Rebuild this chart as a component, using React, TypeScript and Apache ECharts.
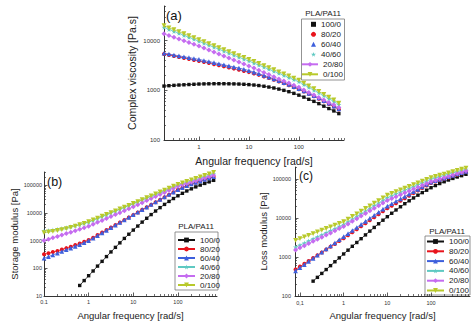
import React, { useEffect, useRef } from 'react';
import * as echarts from 'echarts';

// Angular frequency [rad/s], 10 points per decade
const FREQ = [0.0794, 0.1, 0.126, 0.158, 0.2, 0.251, 0.316, 0.398, 0.501, 0.631, 0.794, 1, 1.26, 1.58, 2, 2.51, 3.16, 3.98, 5.01, 6.31, 7.94, 10, 12.6, 15.8, 20, 25.1, 31.6, 39.8, 50.1, 63.1, 79.4, 100, 126, 158, 200, 251, 316, 398, 501, 631];

const SERIES_NAMES = ['100/0', '80/20', '60/40', '40/60', '20/80', '0/100'];

// (a) Complex viscosity [Pa.s]
const ETA_100_0 = [null, null, null, null, 1220, 1240, 1260, 1280, 1295, 1310, 1325, 1340, 1350, 1355, 1360, 1360, 1360, 1355, 1350, 1340, 1325, 1305, 1280, 1250, 1210, 1165, 1115, 1060, 1000, 940, 870, 800, 730, 660, 600, 540, 480, 430, 385, 340];
const ETA_80_20 = [null, null, null, null, 5400, 5150, 4920, 4700, 4490, 4290, 4100, 3920, 3730, 3550, 3370, 3200, 3040, 2890, 2740, 2600, 2460, 2330, 2190, 2050, 1910, 1780, 1640, 1510, 1390, 1270, 1160, 1050, 950, 850, 760, 680, 600, 530, 470, 410];
const ETA_60_40 = [null, null, null, null, 5600, 5380, 5160, 4950, 4750, 4560, 4380, 4200, 3990, 3800, 3610, 3440, 3270, 3110, 2960, 2810, 2660, 2500, 2330, 2170, 2000, 1850, 1700, 1560, 1430, 1310, 1190, 1080, 970, 870, 780, 700, 620, 550, 480, 420];
const ETA_40_60 = [null, null, null, null, 18600, 16900, 15400, 14100, 12800, 11700, 10700, 9750, 8900, 8100, 7400, 6750, 6150, 5600, 5100, 4650, 4250, 3900, 3550, 3230, 2930, 2660, 2420, 2200, 2000, 1810, 1650, 1490, 1310, 1150, 1010, 890, 780, 680, 600, 515];
const ETA_20_80 = [null, null, null, null, 13800, 12700, 11700, 10800, 9950, 9150, 8450, 7800, 7100, 6480, 5900, 5380, 4900, 4470, 4070, 3710, 3390, 3100, 2810, 2540, 2300, 2080, 1880, 1700, 1540, 1400, 1270, 1150, 1020, 910, 810, 720, 640, 570, 510, 450];
const ETA_0_100 = [null, null, null, null, 20000, 18200, 16600, 15200, 13800, 12600, 11500, 10500, 9600, 8700, 7950, 7250, 6600, 6050, 5500, 5000, 4600, 4200, 3820, 3470, 3150, 2860, 2600, 2360, 2150, 1950, 1770, 1600, 1400, 1230, 1080, 950, 830, 730, 640, 550];

// (b) Storage modulus [Pa]
const GP_100_0 = [null, null, null, null, null, null, null, null, null, 24, 36, 54, 80, 120, 178, 265, 390, 570, 830, 1200, 1700, 2400, 3350, 4650, 6400, 8700, 11700, 15500, 20300, 26000, 33000, 41500, 51000, 62000, 74000, 87000, 101000, 116000, 132000, 150000];
const GP_80_20 = [null, 320, 350, 385, 425, 475, 535, 605, 690, 790, 910, 1050, 1270, 1580, 1950, 2400, 2960, 3650, 4500, 5550, 6850, 8450, 10400, 12900, 15900, 19600, 24200, 29900, 36900, 45500, 56200, 69000, 81000, 95000, 110000, 126000, 143000, 161000, 181000, 200000];
const GP_60_40 = [null, 230, 264, 304, 350, 403, 465, 537, 621, 719, 835, 1000, 1220, 1510, 1880, 2340, 2910, 3620, 4500, 5580, 6900, 8550, 10600, 13100, 16200, 20000, 24700, 30400, 37400, 46000, 56500, 69500, 82000, 96000, 111000, 127000, 144000, 162000, 182000, 202000];
const GP_40_60 = [null, 2200, 2300, 2420, 2560, 2730, 2930, 3170, 3450, 3780, 4170, 4620, 5390, 6280, 7330, 8540, 9960, 11600, 13500, 15800, 18400, 21400, 25000, 29100, 34000, 39600, 46200, 53800, 62800, 73200, 85300, 99500, 112000, 126000, 142000, 160000, 180000, 203000, 230000, 260000];
const GP_20_80 = [null, 1000, 1125, 1265, 1420, 1600, 1800, 2020, 2270, 2560, 2900, 3300, 3880, 4560, 5350, 6300, 7400, 8700, 10200, 12000, 14100, 16600, 19700, 23400, 27800, 33000, 39100, 46400, 55100, 65400, 77600, 92000, 103000, 116000, 130000, 145000, 163000, 183000, 205000, 230000];
const GP_0_100 = [null, 1950, 2050, 2170, 2320, 2510, 2730, 3000, 3330, 3730, 4220, 4800, 5590, 6500, 7570, 8800, 10250, 11900, 13900, 16150, 18800, 21900, 25700, 30100, 35300, 41400, 48600, 57000, 66800, 78400, 92000, 108000, 122000, 138000, 156000, 177000, 200000, 226000, 256000, 290000];

// (c) Loss modulus [Pa]
const GPP_100_0 = [null, null, null, null, 240, 300, 378, 475, 598, 752, 945, 1190, 1490, 1870, 2340, 2930, 3660, 4570, 5680, 7050, 8700, 10700, 13100, 15900, 19200, 23000, 27300, 32300, 38000, 44200, 51000, 59000, 67000, 75500, 84000, 93000, 102000, 111000, 120000, 130000];
const GPP_80_20 = [480, 567, 670, 791, 934, 1100, 1300, 1540, 1820, 2150, 2540, 3000, 3580, 4270, 5090, 6070, 7240, 8640, 10300, 12300, 14700, 17500, 20300, 23600, 27400, 31800, 36900, 42900, 49800, 57800, 67100, 78000, 84600, 91800, 99700, 108000, 117000, 127000, 138000, 150000];
const GPP_60_40 = [440, 530, 635, 763, 916, 1100, 1320, 1590, 1910, 2290, 2750, 3300, 3950, 4730, 5670, 6790, 8130, 9730, 11650, 13950, 16700, 20000, 23000, 26500, 30500, 35100, 40500, 46600, 53600, 61800, 71100, 82000, 88800, 96200, 104000, 113000, 122000, 132000, 143000, 155000];
const GPP_40_60 = [1780, 2010, 2270, 2570, 2900, 3280, 3700, 4180, 4720, 5340, 6030, 6800, 7960, 9320, 10900, 12800, 15000, 17500, 20500, 24000, 28100, 33000, 36800, 41000, 45700, 51000, 56900, 63400, 70700, 78800, 87900, 98000, 105000, 113000, 122000, 131000, 141000, 151000, 163000, 175000];
const GPP_20_80 = [1510, 1710, 1940, 2200, 2500, 2830, 3210, 3640, 4120, 4670, 5300, 6000, 7000, 8160, 9510, 11100, 12900, 15100, 17600, 20500, 23900, 27900, 31200, 34900, 39000, 43600, 48700, 54500, 60900, 68100, 76100, 85000, 92000, 99500, 108000, 116500, 126000, 136500, 147500, 160000];
const GPP_0_100 = [2650, 2930, 3240, 3580, 3950, 4370, 4830, 5330, 5890, 6510, 7200, 7950, 9300, 10850, 12700, 14850, 17350, 20300, 23700, 27700, 32400, 37900, 42100, 46700, 51800, 57500, 63800, 70900, 78600, 87300, 96900, 107500, 115000, 123000, 132000, 142000, 152000, 163000, 175000, 188000];

// Tick labels
const X_TICKS_A = [1, 10, 100];
const X_TICKS_BC = [0.1, 1, 10, 100];
const Y_TICKS_A = [100, 1000, 10000];
const Y_TICKS_B = [10, 100, 1000, 10000, 100000];
const Y_TICKS_C = [100, 1000, 10000, 100000];
const MINOR_TICKS = [0.02, 0.03, 0.04, 0.05, 0.06, 0.07, 0.08, 0.09, 0.2, 0.3, 0.4, 0.5, 0.6, 0.7, 0.8, 0.9, 2, 3, 4, 5, 6, 7, 8, 9, 20, 30, 40, 50, 60, 70, 80, 90, 200, 300, 400, 500, 600, 700, 800, 900, 2000, 3000, 4000, 5000, 6000, 7000, 8000, 9000, 20000, 30000, 40000, 50000, 60000, 70000, 80000, 90000, 200000, 300000, 400000, 500000, 600000, 700000, 800000, 900000];

const FONT = '"Liberation Sans", Arial, sans-serif';
const COLORS = ['#111111', '#e8141c', '#3d5fdc', '#5ec9c2', '#c56cf0', '#b8c92a'];
const STAR = 'path://M50,0L61,35L98,35L68,57L79,91L50,70L21,91L32,57L2,35L39,35Z';
const DOWN_TRI = 'path://M0,0L10,0L5,8.7Z';
const SYMBOLS = ['rect', 'circle', 'triangle', STAR, 'diamond', DOWN_TRI];
const SYMBOL_SIZES = [3.4, 4, 4.6, 5, 5, 4.8];

const PANELS = [
  {
    values: [ETA_100_0, ETA_80_20, ETA_60_40, ETA_40_60, ETA_20_80, ETA_0_100],
    grid: { left: 164, top: 6, width: 180, height: 134 },
    xMin: 0.2, xMax: 800, yMin: 100, yMax: 50000,
    xTicks: X_TICKS_A, yTicks: Y_TICKS_A,
    yName: 'Complex viscosity [Pa.s]', nameSize: 10.5, xNameGap: 15, yNameGap: 27,
    tickSize: 6, xLabelMargin: 4, yLabelMargin: 4, comma: false,
  },
  {
    values: [GP_100_0, GP_80_20, GP_60_40, GP_40_60, GP_20_80, GP_0_100],
    grid: { left: 44, top: 172, width: 173, height: 124 },
    xMin: 0.1, xMax: 750, yMin: 10, yMax: 300000,
    xTicks: X_TICKS_BC, yTicks: Y_TICKS_B,
    yName: 'Storage modulus [Pa]', nameSize: 9.5, xNameGap: 14, yNameGap: 25,
    tickSize: 5.5, xLabelMargin: 3, yLabelMargin: 2, comma: false,
  },
  {
    values: [GPP_100_0, GPP_80_20, GPP_60_40, GPP_40_60, GPP_20_80, GPP_0_100],
    grid: { left: 295, top: 167, width: 175, height: 129 },
    xMin: 0.077, xMax: 780, yMin: 100, yMax: 200000,
    xTicks: X_TICKS_BC, yTicks: Y_TICKS_C,
    yName: 'Loss modulus [Pa]', nameSize: 9.5, xNameGap: 14, yNameGap: 23,
    tickSize: 5.5, xLabelMargin: 4, yLabelMargin: 4, comma: true,
  },
];

function makeData(values: (number | null)[]) {
  return FREQ.map((f, i) => [f, values[i]]).filter((d) => d[1] != null);
}

function fmt(v: number, comma: boolean) {
  const s = String(Number(v.toPrecision(6)));
  return comma ? s.replace('.', ',') : s;
}

function buildOption() {
  const grid: any[] = [];
  const xAxis: any[] = [];
  const yAxis: any[] = [];
  const series: any[] = [];
  const axisColor = '#333';

  PANELS.forEach((p, pi) => {
    grid.push({ ...p.grid, show: false, containLabel: false, outerBoundsMode: 'none' });
    xAxis.push({
      type: 'log', logBase: 10, gridIndex: pi, position: 'bottom', min: p.xMin, max: p.xMax,
      name: 'Angular frequency [rad/s]', nameLocation: 'middle', nameGap: p.xNameGap,
      nameTextStyle: { fontSize: p.nameSize, color: '#222', fontFamily: FONT },
      axisLine: { show: true, onZero: false, lineStyle: { color: axisColor, width: 1 } },
      axisTick: { show: true, inside: true, length: 3.5, customValues: p.xTicks, lineStyle: { color: axisColor, width: 0.8 } },
      axisLabel: { show: true, customValues: p.xTicks, fontSize: p.tickSize, color: '#333', fontFamily: FONT, margin: p.xLabelMargin, formatter: (v: number) => fmt(v, p.comma) },
      splitLine: { show: false }, minorTick: { show: false },
    });
    xAxis.push({
      type: 'log', logBase: 10, gridIndex: pi, position: 'bottom', min: p.xMin, max: p.xMax,
      axisLine: { show: false, onZero: false },
      axisTick: { show: true, inside: true, length: 2, customValues: MINOR_TICKS, lineStyle: { color: axisColor, width: 0.7 } },
      axisLabel: { show: false }, splitLine: { show: false },
    });
    yAxis.push({
      type: 'log', logBase: 10, gridIndex: pi, position: 'left', min: p.yMin, max: p.yMax,
      name: p.yName, nameLocation: 'middle', nameGap: p.yNameGap,
      nameTextStyle: { fontSize: p.nameSize, color: '#222', fontFamily: FONT },
      axisLine: { show: true, onZero: false, lineStyle: { color: axisColor, width: 1 } },
      axisTick: { show: true, inside: true, length: 3.5, customValues: p.yTicks, lineStyle: { color: axisColor, width: 0.8 } },
      axisLabel: { show: true, customValues: p.yTicks, fontSize: p.tickSize, color: '#333', fontFamily: FONT, margin: p.yLabelMargin, formatter: (v: number) => fmt(v, false) },
      splitLine: { show: false }, minorTick: { show: false },
    });
    yAxis.push({
      type: 'log', logBase: 10, gridIndex: pi, position: 'left', min: p.yMin, max: p.yMax,
      axisLine: { show: false, onZero: false },
      axisTick: { show: true, inside: true, length: 2, customValues: MINOR_TICKS, lineStyle: { color: axisColor, width: 0.7 } },
      axisLabel: { show: false }, splitLine: { show: false },
    });
    p.values.forEach((vals, si) => {
      series.push({
        type: 'line', name: SERIES_NAMES[si], xAxisIndex: pi * 2, yAxisIndex: pi * 2,
        data: makeData(vals), symbol: SYMBOLS[si], symbolSize: SYMBOL_SIZES[si], showSymbol: true,
        lineStyle: { width: 0.8, color: COLORS[si] }, itemStyle: { color: COLORS[si] },
        emphasis: { disabled: true }, silent: true, z: 2 + si,
      });
    });
  });

  const legendText = { fontSize: 8, lineHeight: 8, color: '#222', fontFamily: FONT };
  const legend = [
    {
      orient: 'vertical', left: 311, top: 20.3, itemWidth: 5, itemHeight: 5, itemGap: 2, padding: 0,
      selectedMode: false, textStyle: legendText,
      data: [
        { name: '100/0', icon: 'rect' },
        { name: '80/20', icon: 'circle' },
        { name: '60/40', icon: 'triangle' },
        { name: '40/60', icon: STAR },
      ],
    },
    {
      orient: 'vertical', left: 301, top: 60.3, itemWidth: 16, itemHeight: 6, itemGap: 2, padding: 0,
      selectedMode: false, textStyle: legendText, data: ['20/80', '0/100'],
    },
    {
      orient: 'vertical', left: 177, top: 236, itemWidth: 17, itemHeight: 6, itemGap: 1, padding: 0,
      selectedMode: false, textStyle: legendText, data: SERIES_NAMES,
    },
    {
      orient: 'vertical', left: 426, top: 237.5, itemWidth: 17, itemHeight: 6, itemGap: 1.8, padding: 0,
      selectedMode: false, textStyle: legendText, data: SERIES_NAMES,
    },
  ];

  const boxStyle = { fill: 'none', stroke: '#777', lineWidth: 0.8 };
  const graphic = [
    { type: 'text', x: 166, y: 15, style: { text: '(a)', fontSize: 13, fontFamily: FONT, fill: '#111', textAlign: 'left', textVerticalAlign: 'middle' } },
    { type: 'text', x: 47, y: 182, style: { text: '(b)', fontSize: 12.5, fontFamily: FONT, fill: '#111', textAlign: 'left', textVerticalAlign: 'middle' } },
    { type: 'text', x: 299, y: 176, style: { text: '(c)', fontSize: 12, fontFamily: FONT, fill: '#111', textAlign: 'left', textVerticalAlign: 'middle' } },
    { type: 'text', x: 323, y: 13, style: { text: 'PLA/PA11', fontSize: 8, fontFamily: FONT, fill: '#222', textAlign: 'center', textVerticalAlign: 'middle' } },
    { type: 'text', x: 196, y: 226, style: { text: 'PLA/PA11', fontSize: 8, fontFamily: FONT, fill: '#222', textAlign: 'center', textVerticalAlign: 'middle' } },
    { type: 'text', x: 447, y: 231, style: { text: 'PLA/PA11', fontSize: 8, fontFamily: FONT, fill: '#222', textAlign: 'center', textVerticalAlign: 'middle' } },
    { type: 'rect', shape: { x: 301.5, y: 19, width: 43, height: 61 }, style: boxStyle, silent: true },
    { type: 'rect', shape: { x: 175, y: 232, width: 43, height: 58 }, style: boxStyle, silent: true },
    { type: 'rect', shape: { x: 425, y: 236, width: 45, height: 59 }, style: boxStyle, silent: true },
  ];

  return {
    animation: false,
    backgroundColor: '#ffffff',
    textStyle: { fontFamily: FONT },
    grid, xAxis, yAxis, series, legend, graphic,
  };
}

export default function App() {
  const ref = useRef<HTMLDivElement>(null);
  useEffect(() => {
    if (!ref.current) return;
    const chart = echarts.init(ref.current, null, { renderer: 'svg' });
    chart.setOption(buildOption() as any);
    return () => chart.dispose();
  }, []);
  return (
    <div
      ref={ref}
      style={{ position: 'fixed', left: 0, top: 0, width: 474, height: 326, background: '#fff' }}
    />
  );
}
